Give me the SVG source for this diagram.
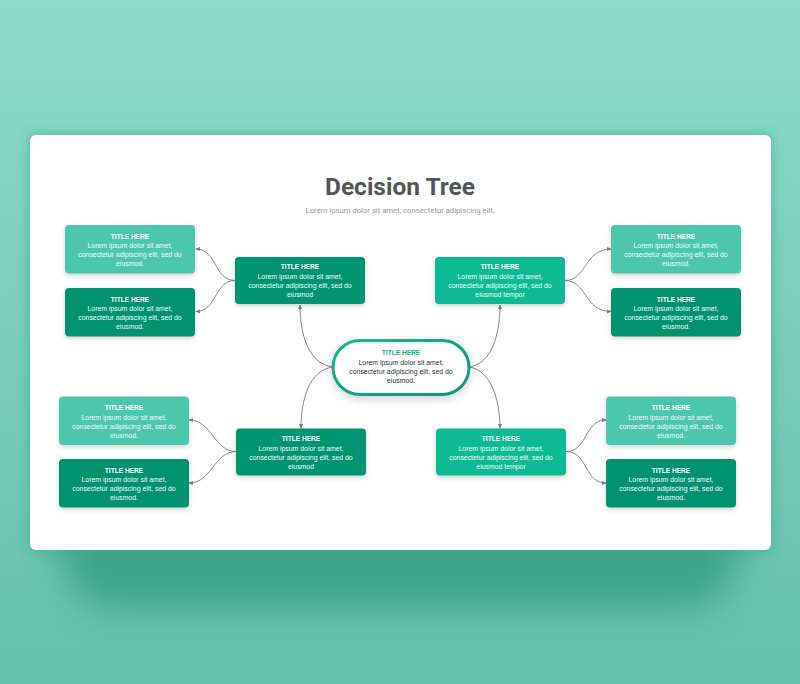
<svg xmlns="http://www.w3.org/2000/svg" width="800" height="684" viewBox="0 0 800 684">
<defs>
<linearGradient id="bg" x1="0" y1="0" x2="0" y2="1">
<stop offset="0" stop-color="#8cdccb"/>
<stop offset="1" stop-color="#66c0ac"/>
</linearGradient>
<linearGradient id="pillStroke" x1="0" y1="0" x2="1" y2="1">
<stop offset="0" stop-color="#17b690"/>
<stop offset="1" stop-color="#07987a"/>
</linearGradient>
<filter id="cardShadow" x="-20%" y="-20%" width="140%" height="160%">
<feGaussianBlur stdDeviation="18"/>
</filter>
<filter id="halo" x="-10%" y="-10%" width="120%" height="120%">
<feGaussianBlur stdDeviation="6"/>
</filter>
<filter id="boxShadow" x="-20%" y="-30%" width="140%" height="170%">
<feDropShadow dx="0" dy="2" stdDeviation="2.5" flood-color="#000" flood-opacity="0.18"/>
</filter>
<filter id="pillShadow" x="-30%" y="-40%" width="160%" height="190%">
<feDropShadow dx="0" dy="3" stdDeviation="5" flood-color="#000" flood-opacity="0.18"/>
</filter>
<marker id="arr" viewBox="0 0 8 8" refX="7" refY="4" markerWidth="5" markerHeight="5" markerUnits="userSpaceOnUse" orient="auto">
<path d="M0,0.5 L8,4 L0,7.5 z" fill="#808080"/>
</marker>
<style>
.title{font-family:Roboto,"Liberation Sans",sans-serif;font-weight:bold;font-size:24.5px;fill:#555555}
.sub{font-family:Roboto,"Liberation Sans",sans-serif;font-size:7.7px;fill:#9a9a9a}
.bt{font-family:"Liberation Sans",Arial,sans-serif;font-weight:bold;font-size:6.6px;fill:#ffffff;text-anchor:middle}
.bb{font-family:"Liberation Sans",Arial,sans-serif;font-size:6.9px;fill:#f2fbf8;text-anchor:middle}
.ct{font-family:"Liberation Sans",Arial,sans-serif;font-weight:bold;font-size:6.6px;fill:#19b08e;text-anchor:middle}
.cb{font-family:"Liberation Sans",Arial,sans-serif;font-size:6.9px;fill:#333333;text-anchor:middle}
.light{fill:#4dc6ae}
.dark{fill:#039271}
.midl{fill:#039572}
.midr{fill:#0cba93}
.conn{fill:none;stroke:#8a8a8a;stroke-width:1}
</style>
</defs>

<rect x="0" y="0" width="800" height="684" fill="url(#bg)"/>
<!-- card shadows -->
<rect x="60" y="170" width="680" height="440" rx="60" fill="#2f9a80" opacity="0.75" filter="url(#cardShadow)"/>
<rect x="28" y="133" width="745" height="420" rx="8" fill="#3aa98e" opacity="0.55" filter="url(#halo)"/>
<!-- card -->
<rect x="30" y="135" width="741" height="415" rx="6" fill="#ffffff"/>

<text class="title" x="400" y="195" text-anchor="middle">Decision Tree</text>
<text class="sub" x="400" y="213" text-anchor="middle">Lorem ipsum dolor sit amet, consectetur adipiscing elit,</text>

<g id="connectors">
<path class="conn" d="M235,280.5 C214,280.5 217,249 196,249" marker-end="url(#arr)"/>
<path class="conn" d="M235,280.5 C214,280.5 217,311.5 196,311.5" marker-end="url(#arr)"/>
<path class="conn" d="M565,280.5 C587,280.5 584,249 611,249" marker-end="url(#arr)"/>
<path class="conn" d="M565,280.5 C587,280.5 584,311.5 611,311.5" marker-end="url(#arr)"/>
<path class="conn" d="M236,451.5 C214,451.5 212,420 189,420" marker-end="url(#arr)"/>
<path class="conn" d="M236,451.5 C214,451.5 212,483 189,483" marker-end="url(#arr)"/>
<path class="conn" d="M566,451.5 C588,451.5 584,420 606,420" marker-end="url(#arr)"/>
<path class="conn" d="M566,451.5 C588,451.5 584,483 606,483" marker-end="url(#arr)"/>
<path class="conn" d="M333,367 C309,364 300,336 300,305" marker-end="url(#arr)"/>
<path class="conn" d="M333,367 C309,370 301,400 301,428" marker-end="url(#arr)"/>
<path class="conn" d="M469,367 C491,364 500,336 500,305" marker-end="url(#arr)"/>
<path class="conn" d="M469,367 C491,370 500,400 500,428" marker-end="url(#arr)"/>
</g>

<g id="center">
<rect x="333" y="340.5" width="136" height="54" rx="27" fill="#ffffff" stroke="url(#pillStroke)" stroke-width="3" filter="url(#pillShadow)"/>
<text class="ct" x="401" y="355">TITLE HERE</text>
<text class="cb" x="401" y="365">Lorem  ipsum dolor sit amet,</text>
<text class="cb" x="401" y="374">consectetur adipiscing elit, sed do</text>
<text class="cb" x="401" y="383">eiusmod.</text>
</g>

<g id="mid-top-left">
<rect class="midl" x="235" y="257" width="130" height="47" rx="4" filter="url(#boxShadow)"/>
<text class="bt" x="300" y="269">TITLE HERE</text>
<text class="bb" x="300" y="279">Lorem  ipsum dolor sit amet,</text>
<text class="bb" x="300" y="288">consectetur adipiscing elit, sed do</text>
<text class="bb" x="300" y="297">eiusmod</text>
</g>

<g id="mid-top-right">
<rect class="midr" x="435" y="257" width="130" height="47" rx="4" filter="url(#boxShadow)"/>
<text class="bt" x="500" y="269">TITLE HERE</text>
<text class="bb" x="500" y="279">Lorem  ipsum dolor sit amet,</text>
<text class="bb" x="500" y="288">consectetur adipiscing elit, sed do</text>
<text class="bb" x="500" y="297">eiusmod tempor</text>
</g>

<g id="mid-bottom-left">
<rect class="midl" x="236" y="428.5" width="130" height="47" rx="4" filter="url(#boxShadow)"/>
<text class="bt" x="301" y="440.5">TITLE HERE</text>
<text class="bb" x="301" y="450.5">Lorem  ipsum dolor sit amet,</text>
<text class="bb" x="301" y="459.5">consectetur adipiscing elit, sed do</text>
<text class="bb" x="301" y="468.5">eiusmod</text>
</g>

<g id="mid-bottom-right">
<rect class="midr" x="436" y="428.5" width="130" height="47" rx="4" filter="url(#boxShadow)"/>
<text class="bt" x="501" y="440.5">TITLE HERE</text>
<text class="bb" x="501" y="450.5">Lorem  ipsum dolor sit amet,</text>
<text class="bb" x="501" y="459.5">consectetur adipiscing elit, sed do</text>
<text class="bb" x="501" y="468.5">eiusmod tempor</text>
</g>

<g id="leaf-tl-1">
<rect class="light" x="65" y="225" width="130" height="48.5" rx="4" filter="url(#boxShadow)"/>
<text class="bt" x="130" y="238.5">TITLE HERE</text>
<text class="bb" x="130" y="248">Lorem  ipsum dolor sit amet,</text>
<text class="bb" x="130" y="257">consectetur adipiscing elit, sed do</text>
<text class="bb" x="130" y="266">eiusmod.</text>
</g>

<g id="leaf-tl-2">
<rect class="dark" x="65" y="288" width="130" height="48.5" rx="4" filter="url(#boxShadow)"/>
<text class="bt" x="130" y="301.5">TITLE HERE</text>
<text class="bb" x="130" y="311">Lorem  ipsum dolor sit amet,</text>
<text class="bb" x="130" y="320">consectetur adipiscing elit, sed do</text>
<text class="bb" x="130" y="329">eiusmod.</text>
</g>

<g id="leaf-tr-1">
<rect class="light" x="611" y="225" width="130" height="48.5" rx="4" filter="url(#boxShadow)"/>
<text class="bt" x="676" y="238.5">TITLE HERE</text>
<text class="bb" x="676" y="248">Lorem  ipsum dolor sit amet,</text>
<text class="bb" x="676" y="257">consectetur adipiscing elit, sed do</text>
<text class="bb" x="676" y="266">eiusmod.</text>
</g>

<g id="leaf-tr-2">
<rect class="dark" x="611" y="288" width="130" height="48.5" rx="4" filter="url(#boxShadow)"/>
<text class="bt" x="676" y="301.5">TITLE HERE</text>
<text class="bb" x="676" y="311">Lorem  ipsum dolor sit amet,</text>
<text class="bb" x="676" y="320">consectetur adipiscing elit, sed do</text>
<text class="bb" x="676" y="329">eiusmod.</text>
</g>

<g id="leaf-bl-1">
<rect class="light" x="59" y="396.5" width="130" height="48.5" rx="4" filter="url(#boxShadow)"/>
<text class="bt" x="124" y="410">TITLE HERE</text>
<text class="bb" x="124" y="419.5">Lorem  ipsum dolor sit amet,</text>
<text class="bb" x="124" y="428.5">consectetur adipiscing elit, sed do</text>
<text class="bb" x="124" y="437.5">eiusmod.</text>
</g>

<g id="leaf-bl-2">
<rect class="dark" x="59" y="459" width="130" height="48.5" rx="4" filter="url(#boxShadow)"/>
<text class="bt" x="124" y="472.5">TITLE HERE</text>
<text class="bb" x="124" y="482">Lorem  ipsum dolor sit amet,</text>
<text class="bb" x="124" y="491">consectetur adipiscing elit, sed do</text>
<text class="bb" x="124" y="500">eiusmod.</text>
</g>

<g id="leaf-br-1">
<rect class="light" x="606" y="396.5" width="130" height="48.5" rx="4" filter="url(#boxShadow)"/>
<text class="bt" x="671" y="410">TITLE HERE</text>
<text class="bb" x="671" y="419.5">Lorem  ipsum dolor sit amet,</text>
<text class="bb" x="671" y="428.5">consectetur adipiscing elit, sed do</text>
<text class="bb" x="671" y="437.5">eiusmod.</text>
</g>

<g id="leaf-br-2">
<rect class="dark" x="606" y="459" width="130" height="48.5" rx="4" filter="url(#boxShadow)"/>
<text class="bt" x="671" y="472.5">TITLE HERE</text>
<text class="bb" x="671" y="482">Lorem  ipsum dolor sit amet,</text>
<text class="bb" x="671" y="491">consectetur adipiscing elit, sed do</text>
<text class="bb" x="671" y="500">eiusmod.</text>
</g>
</svg>
